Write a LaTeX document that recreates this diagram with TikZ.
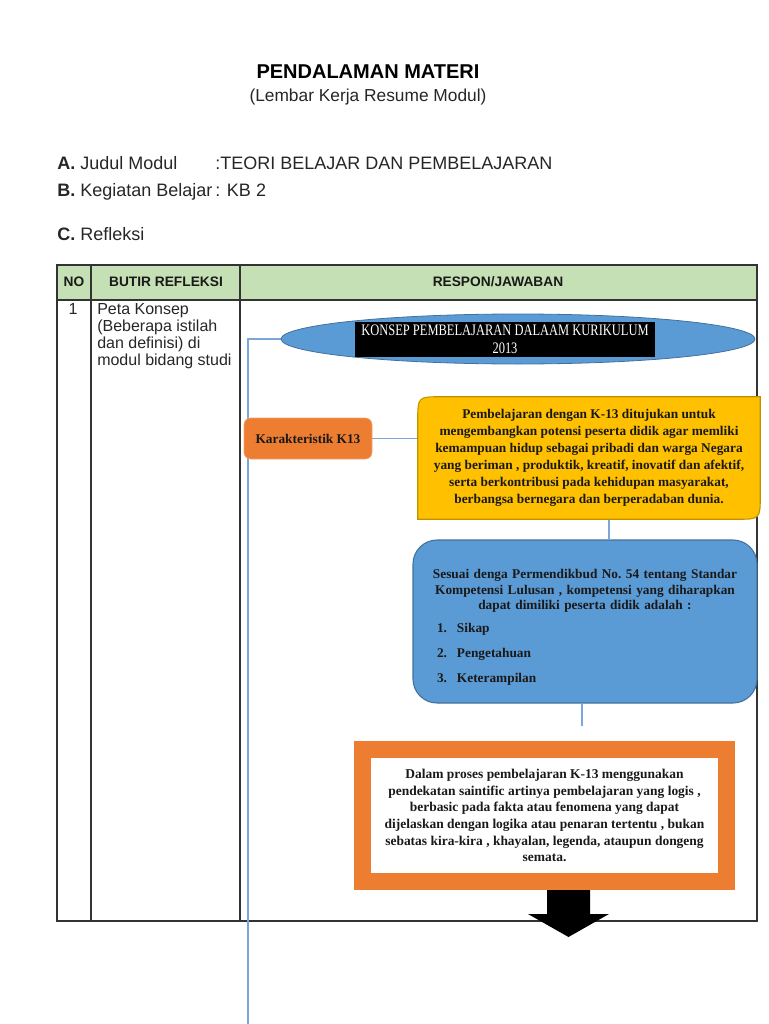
\documentclass[tikz,border=0pt]{standalone}
\usepackage{fontspec}
\setmainfont{Liberation Sans}
\newfontfamily\boxfont{Liberation Serif}
\newfontfamily\narrowserif{Liberation Serif}[FakeStretch=0.78]
\usepackage{xcolor}
\usetikzlibrary{shapes.geometric,backgrounds,positioning}
\definecolor{kkblue}{RGB}{91,155,213}
\definecolor{kkblueline}{RGB}{65,113,156}
\definecolor{kkorange}{RGB}{237,125,49}
\definecolor{kkyellow}{RGB}{255,192,0}
\definecolor{kkyellowline}{RGB}{191,144,0}
\definecolor{kkgreen}{RGB}{197,224,180}
\definecolor{kkline}{RGB}{123,167,216}
\newcommand{\butirlist}[2]{\hspace*{10pt}\makebox[15pt][l]{#1}#2\par}
\tikzset{%
    connector/.style={draw=kkline, line width=0.9pt},
    tableline/.style={draw=black!80, line width=0.8pt},
    bodytext/.style={anchor=west, inner sep=0pt, text=black!85, font=\fontsize{13.5}{16}\selectfont},
    headtext/.style={font=\bfseries\fontsize{10.3}{12}\selectfont, text=black!90},
    boxtext/.style={font=\boxfont\bfseries\fontsize{10}{12.75}\selectfont, text=black!90, align=center, inner sep=0pt}
}

\begin{document}
\begin{tikzpicture}[x=0.75pt,y=-0.75pt]
\useasboundingbox (0,0) rectangle (768,1024);

\node[font=\bfseries\fontsize{15}{18}\selectfont] (judul) at (368,72) {PENDALAMAN MATERI};
\node[font=\fontsize{13}{15}\selectfont, text=black!85] (subjudul) at (368,97) {(Lembar Kerja Resume Modul)};

\node[bodytext] (baris a) at (57,163) {\textbf{A.} Judul Modul};
\node[bodytext] (isi a) at (215,163) {:TEORI BELAJAR DAN PEMBELAJARAN};
\node[bodytext] (baris b) at (57,192) {\textbf{B.} Kegiatan Belajar\,: KB 2};
\node[bodytext] (baris c) at (57,234) {\textbf{C.} Refleksi};

\node[headtext] (kolom no) at (74,282) {NO};
\node[headtext] (kolom butir) at (166,282) {BUTIR REFLEKSI};
\node[headtext] (kolom respon) at (498,282) {RESPON/JAWABAN};

\node[font=\fontsize{12}{12.75}\selectfont, text=black!85] (nomor) at (73,309) {1};
\node[anchor=north west, align=left, inner sep=0pt, text=black!85, font=\fontsize{12}{12.75}\selectfont] (butir) at (97,303) {Peta Konsep\\(Beberapa istilah\\dan definisi) di\\modul bidang studi};

\node[ellipse, fill=kkblue, draw=kkblueline, line width=0.6pt, minimum width=355.5pt, minimum height=37.5pt] (konsep) at (518,339) {};
\node[fill=black, text=white, align=center, inner sep=0pt, minimum width=225pt, minimum height=26.25pt, font=\narrowserif\fontsize{12}{13.5}\selectfont] (konsep judul) at (505,339.5) {KONSEP PEMBELAJARAN DALAAM KURIKULUM\\2013};

\node[boxtext, fill=kkorange, draw=kkorange!70!white, rounded corners=5pt, minimum width=96pt, minimum height=30.75pt] (karakter) at (308,438.5) {Karakteristik K13};

\node[boxtext, minimum width=256.5pt, minimum height=91.5pt] (tujuan) at (589,458) {Pembelajaran dengan K-13 ditujukan untuk\\mengembangkan potensi peserta didik agar memliki\\kemampuan hidup sebagai pribadi dan warga Negara\\yang beriman , produktik, kreatif, inovatif dan afektif,\\serta berkontribusi pada kehidupan masyarakat,\\berbangsa bernegara dan berperadaban dunia.};

\node[boxtext, font=\boxfont\bfseries\fontsize{10}{11.6}\selectfont, fill=kkblue, draw=kkblueline, line width=0.8pt, rounded corners=18pt, text width=242pt, inner xsep=8pt, minimum height=122.25pt] (standar) at (585,621.5) {\rule{0pt}{16pt}Sesuai denga Permendikbud No.\ 54 tentang Standar\\Kompetensi Lulusan , kompetensi yang diharapkan\\dapat dimiliki peserta didik adalah :\par\raggedright\vspace{5.5pt}%
\butirlist{1.}{Sikap}\vspace{7.4pt}%
\butirlist{2.}{Pengetahuan}\vspace{7.4pt}%
\butirlist{3.}{Keterampilan}};

\node[boxtext, font=\boxfont\bfseries\fontsize{10.1}{12.5}\selectfont, fill=white, draw=kkorange, line width=12.4pt, minimum width=273.35pt, minimum height=99.35pt] (saintifik) at (544.5,815.5) {Dalam proses pembelajaran K-13 menggunakan\\pendekatan saintific artinya pembelajaran yang logis ,\\berbasic pada fakta atau fenomena yang dapat\\dijelaskan dengan logika atau penaran tertentu , bukan\\sebatas kira-kira , khayalan, legenda, ataupun dongeng\\semata.};

\coordinate (ujung) at (248,1024);

\begin{scope}[on background layer]
\fill[kkgreen] (57,265) rectangle (757,300);
\draw[tableline] (57,265) rectangle (757,921);
\draw[tableline] (57,300) -- (757,300);
\draw[tableline] (91,265) -- (91,921);
\draw[tableline] (240,265) -- (240,921);

\draw[connector] (konsep.west) -| (ujung);
\draw[connector] (karakter.east) -- (karakter.east -| tujuan.west);
\draw[connector] ([xshift=15pt]tujuan.south) -- ([xshift=15pt]tujuan.south |- standar.north);
\draw[connector] ([xshift=-2.25pt]standar.south) -- ++(0,22);

\filldraw[fill=kkyellow, draw=kkyellowline, line width=0.8pt] (tujuan.south west) -- ([yshift=-18pt]tujuan.north west) .. controls (tujuan.north west) .. ([xshift=18pt]tujuan.north west) -- (tujuan.north east) -- ([yshift=18pt]tujuan.south east) .. controls (tujuan.south east) .. ([xshift=-18pt]tujuan.south east) -- cycle;
\end{scope}

\fill[black] (547,890) -- (590,890) -- (590,914) -- (609,914) -- (568.5,937) -- (528,914) -- (547,914) -- cycle;
\end{tikzpicture}
\end{document}
